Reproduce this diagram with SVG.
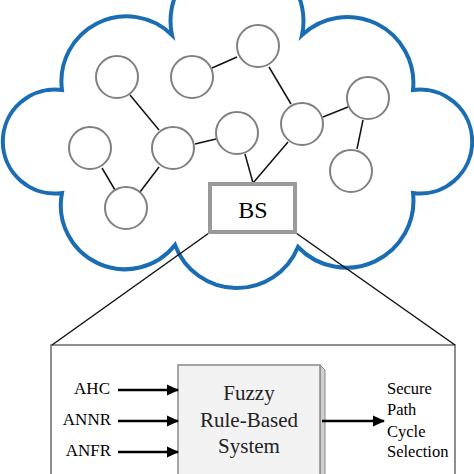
<svg xmlns="http://www.w3.org/2000/svg" width="474" height="474" viewBox="0 0 474 474">
<style>
.node{fill:#fff;stroke:#808080;stroke-width:2}
.edge{stroke:#111;stroke-width:1.5;fill:none}
.arrow{stroke:#000;stroke-width:2.5;fill:none}
</style>
<defs>
<marker id="ah" markerUnits="userSpaceOnUse" markerWidth="12" markerHeight="12" viewBox="0 0 12 12" refX="11" refY="6" orient="auto">
<path d="M0,0.5 L12,6 L0,11.5 Z" fill="#000"/>
</marker>
</defs>
<rect width="474" height="474" fill="#fff"/>
<g id="cloud">
<path d="M62,90 A65,65 0 0 1 172,35 A66.5,66.5 0 1 1 302,35 A66,66 0 0 1 413,90 A52,52 0 1 1 413,193 A67,67 0 0 1 298,247 A66,66 0 0 1 175,245 A64,64 0 0 1 62,193 A52,52 0 1 1 62,90 Z" fill="#fff" stroke="#1b6db3" stroke-width="4" stroke-linejoin="miter"/>
</g>
<g id="zoombox">
<path d="M51,480 L51,345 L455,345 L455,480" fill="none" stroke="#6a6a6a" stroke-width="1.5"/>
</g>
<g id="fuzzy">
<polygon points="320,365 325,370 325,480 320,480" fill="#d0d0d0" stroke="#888" stroke-width="1"/>
<rect x="178" y="365" width="142" height="115" fill="#f2f2f2" stroke="#888" stroke-width="1.5"/>
<g font-family="'Liberation Serif', 'Times New Roman', serif" font-size="21" text-anchor="middle" fill="#222">
<text x="249" y="400">Fuzzy</text>
<text x="249" y="427">Rule-Based</text>
<text x="249" y="453">System</text>
</g>
</g>
<g id="connectors">
<line class="edge" x1="130" y1="95" x2="159" y2="130"/>
<line class="edge" x1="212" y1="68" x2="237" y2="57"/>
<line class="edge" x1="269" y1="67" x2="291" y2="104"/>
<line class="edge" x1="195" y1="144" x2="216" y2="139"/>
<line class="edge" x1="102" y1="168" x2="115" y2="190"/>
<line class="edge" x1="159" y1="167" x2="140" y2="192"/>
<line class="edge" x1="245" y1="154" x2="253" y2="183"/>
<line class="edge" x1="288" y1="142" x2="253" y2="183"/>
<line class="edge" x1="323" y1="117" x2="348" y2="107"/>
<line class="edge" x1="363" y1="120" x2="357" y2="149"/>
<line class="edge" x1="209" y1="233" x2="52" y2="345"/>
<line class="edge" x1="296" y1="233" x2="455" y2="345"/>
<line class="arrow" x1="118" y1="390" x2="178" y2="390" marker-end="url(#ah)"/>
<line class="arrow" x1="118" y1="421" x2="178" y2="421" marker-end="url(#ah)"/>
<line class="arrow" x1="118" y1="452" x2="178" y2="452" marker-end="url(#ah)"/>
<line class="arrow" x1="322" y1="421" x2="384" y2="421" marker-end="url(#ah)"/>
</g>
<g id="n1"><circle class="node" cx="117" cy="77" r="21"/></g>
<g id="n2"><circle class="node" cx="192" cy="77" r="21"/></g>
<g id="n3"><circle class="node" cx="258" cy="46" r="21"/></g>
<g id="n4"><circle class="node" cx="90" cy="148" r="21"/></g>
<g id="n5"><circle class="node" cx="173" cy="148" r="21"/></g>
<g id="n6"><circle class="node" cx="237" cy="133" r="21"/></g>
<g id="n7"><circle class="node" cx="302" cy="124" r="21"/></g>
<g id="n8"><circle class="node" cx="368" cy="98" r="21"/></g>
<g id="n9"><circle class="node" cx="351" cy="171" r="21"/></g>
<g id="n10"><circle class="node" cx="126" cy="208" r="21"/></g>
<g id="bs">
<rect x="210" y="184" width="85" height="48" fill="#fff" stroke="#9a9a9a" stroke-width="4"/>
<text x="253" y="218" font-family="'Liberation Serif', 'Times New Roman', serif" font-size="24" text-anchor="middle" fill="#000">BS</text>
</g>
<g id="inputs" font-family="'Liberation Serif', 'Times New Roman', serif" font-size="17" fill="#000">
<text x="110" y="394" text-anchor="end">AHC</text>
<text x="111" y="425" text-anchor="end">ANNR</text>
<text x="111" y="456" text-anchor="end">ANFR</text>
</g>
<g id="output" font-family="'Liberation Serif', 'Times New Roman', serif" font-size="16.5" fill="#000">
<text x="387" y="394">Secure</text>
<text x="387" y="415">Path</text>
<text x="387" y="437">Cycle</text>
<text x="387" y="457">Selection</text>
</g>
</svg>
